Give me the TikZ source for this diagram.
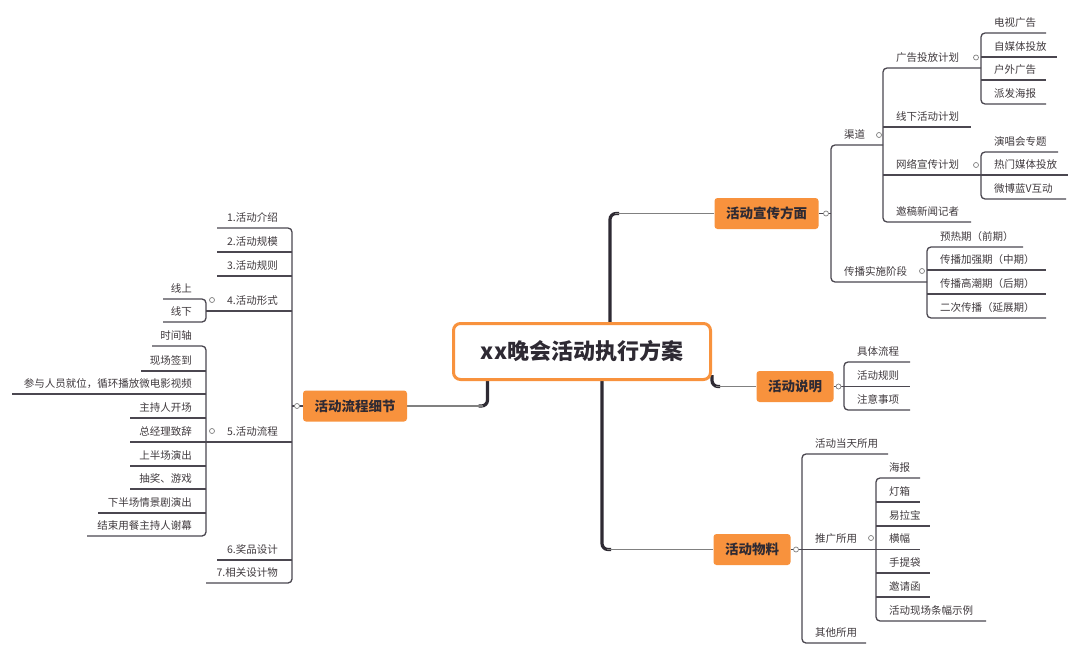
\documentclass[tikz,border=0pt]{standalone}
\usepackage{fontspec}
\setmainfont{Noto Sans CJK SC}
\usetikzlibrary{calc}
\pgfdeclarelayer{background}
\pgfsetlayers{background,main}
\definecolor{org}{HTML}{F8923D}
\definecolor{lnc}{HTML}{4B4750}
\definecolor{txt}{HTML}{403A3E}
\definecolor{dk}{HTML}{2E2A33}
\tikzset{
 lbl/.style={inner sep=0pt, font=\fontsize{10.5}{12}\selectfont, text=txt},
 uline/.style={draw=lnc, line width=1.3pt},
 vline/.style={draw=lnc, line width=1.3pt, rounded corners=4pt},
 mainbox/.style={fill=org, rounded corners=3pt, minimum height=31pt, inner xsep=11.5pt, font=\fontsize{13.5}{15}\selectfont\bfseries, text=dk},
 centralbox/.style={draw=org, fill=white, line width=3pt, rounded corners=7pt, minimum width=257pt, minimum height=56pt, font=\fontsize{22}{26}\selectfont\bfseries, text=dk},
 knob/.style={circle, draw=gray, fill=white, line width=0.7pt, minimum size=5pt, inner sep=0pt},
 trunk/.style={draw=dk, line width=3.2pt, rounded corners=6pt},
 twig/.style={draw=gray, line width=1.1pt},
}
\newcommand\RT[4]{\node[lbl,anchor=base west] (#1) at ({#2+13},{#3-7}) {#4};}
\newcommand\LT[4]{\node[lbl,anchor=base east] (#1) at ({#2-14},{#3-7}) {#4};}
\begin{document}
\begin{tikzpicture}[x=1pt,y=-1pt]
\useasboundingbox (0,0) rectangle (1080,656);
\begin{pgfonlayer}{background}
\fill[white] (0,0) rectangle (1080,656);
\end{pgfonlayer}

% central
\node[centralbox] (c) at (582,351.5) {xx晚会活动执行方案};

% ===== 活动宣传方面 =====
\node[mainbox] (ad) at (766.5,213.5) {活动宣传方面};
\node[knob] (kad) at (826,213.5) {};
\draw[vline] (883,145) -- (831,145) -- (831,282) -- (927,282);
\RT{qd}{831}{145}{渠道}
\node[knob] (kqd) at (879,135) {};
\RT{cb}{831}{282}{传播实施阶段}
\node[knob] (kcb) at (922,271) {};

\draw[vline] (981,68) -- (883,68) -- (883,222) -- (971,222);
\draw[uline] (883,127) -- (971,127);
\draw[uline] (883,175) -- (981,175);
\RT{gg}{883}{68}{广告投放计划}
\node[knob] (kgg) at (976,57.5) {};
\RT{xxhd}{883}{127}{线下活动计划}
\RT{wlxc}{883}{175}{网络宣传计划}
\node[knob] (kwlxc) at (976,165) {};
\RT{ygxw}{883}{222}{邀稿新闻记者}

\draw[vline] (1046,33) -- (981,33) -- (981,104) -- (1046,104);
\draw[uline] (981,57) -- (1057,57);
\draw[uline] (981,80) -- (1046,80);
\RT{g1}{981}{33}{电视广告}
\RT{g2}{981}{57}{自媒体投放}
\RT{g3}{981}{80}{户外广告}
\RT{g4}{981}{104}{派发海报}

\draw[vline] (1058,152) -- (981,152) -- (981,199) -- (1066,199);
\draw[uline] (981,175) -- (1068,175);
\RT{w1}{981}{152}{演唱会专题}
\RT{w2}{981}{175}{热门媒体投放}
\RT{w3}{981}{199}{微博蓝V互动}

\draw[vline] (1023,247) -- (927,247) -- (927,318) -- (1046,318);
\draw[uline] (927,270) -- (1046,270);
\draw[uline] (927,294) -- (1046,294);
\RT{c1}{927}{247}{预热期（前期）}
\RT{c2}{927}{270}{传播加强期（中期）}
\RT{c3}{927}{294}{传播高潮期（后期）}
\RT{c4}{927}{318}{二次传播（延展期）}

% ===== 活动说明 =====
\node[mainbox] (sm) at (795,386.5) {活动说明};
\node[knob] (ksm) at (838.5,386.5) {};
\draw[vline] (910,362) -- (844,362) -- (844,410) -- (910,410);
\draw[uline] (844,386.5) -- (910,386.5);
\RT{s1}{844}{362}{具体流程}
\RT{s2}{844}{386.5}{活动规则}
\RT{s3}{844}{410}{注意事项}

% ===== 活动物料 =====
\node[mainbox] (wl) at (752,549.5) {活动物料};
\node[knob] (kwl) at (796,549.5) {};
\draw[vline] (888,454) -- (802,454) -- (802,643) -- (866,643);
\draw[uline] (802,549.5) -- (876,549.5);
\RT{dt}{802}{454}{活动当天所用}
\RT{tg}{802}{549.5}{推广所用}
\node[knob] (ktg) at (871,538) {};
\RT{qt}{802}{643}{其他所用}

\draw[vline] (920,478) -- (876,478) -- (876,621) -- (986,621);
\draw[uline] (876,502) -- (920,502);
\draw[uline] (876,526) -- (930,526);
\draw[uline] (876,549.5) -- (920,549.5);
\draw[uline] (876,573) -- (930,573);
\draw[uline] (876,597) -- (930,597);
\RT{t1}{876}{478}{海报}
\RT{t2}{876}{502}{灯箱}
\RT{t3}{876}{526}{易拉宝}
\RT{t4}{876}{549.5}{横幅}
\RT{t5}{876}{573}{手提袋}
\RT{t6}{876}{597}{邀请函}
\RT{t7}{876}{621}{活动现场条幅示例}

% ===== 活动流程细节 =====
\node[mainbox] (lc) at (355,406) {活动流程细节};
\node[knob] (klc) at (297,406) {};
\draw[vline] (217,228) -- (292,228) -- (292,583) -- (206,583);
\draw[uline] (292,252) -- (217,252);
\draw[uline] (292,276) -- (217,276);
\draw[uline] (292,311) -- (206,311);
\draw[uline] (292,442) -- (206,442);
\draw[uline] (292,560) -- (217,560);
\LT{l1}{292}{228}{1.活动介绍}
\LT{l2}{292}{252}{2.活动规模}
\LT{l3}{292}{276}{3.活动规则}
\LT{l4}{292}{311}{4.活动形式}
\node[knob] (kl4) at (212,300) {};
\LT{l5}{292}{442}{5.活动流程}
\node[knob] (kl5) at (212,431) {};
\LT{l6}{292}{560}{6.奖品设计}
\LT{l7}{292}{583}{7.相关设计物}

\draw[vline] (163,299) -- (206,299) -- (206,322) -- (163,322);
\LT{f1}{206}{299}{线上}
\LT{f2}{206}{322}{线下}

\draw[vline] (152,346) -- (206,346) -- (206,536) -- (87,536);
\draw[uline] (206,371) -- (141,371);
\draw[uline] (206,394) -- (12,394);
\draw[uline] (206,418) -- (130,418);
\draw[uline] (206,442) -- (130,442);
\draw[uline] (206,466) -- (130,466);
\draw[uline] (206,489) -- (130,489);
\draw[uline] (206,513) -- (98,513);
\LT{p1}{206}{346}{时间轴}
\LT{p2}{206}{371}{现场签到}
\LT{p3}{206}{394}{参与人员就位，循环播放微电影视频}
\LT{p4}{206}{418}{主持人开场}
\LT{p5}{206}{442}{总经理致辞}
\LT{p6}{206}{466}{上半场演出}
\LT{p7}{206}{489}{抽奖、游戏}
\LT{p8}{206}{513}{下半场情景剧演出}
\LT{p9}{206}{536}{结束用餐主持人谢幕}

% ===== connectors behind =====
\begin{pgfonlayer}{background}
\draw[uline] (ad.east) -- (kad.center) -- (831,213.5);
\draw[uline] (sm.east) -- (ksm.center) -- (844,386.5);
\draw[uline] (wl.east) -- (kwl.center) -- (802,549.5);
\draw[uline] (lc.west) -- (klc.center) -- (292,406);
% trunks
\coordinate (tad) at ($(c.north)+(28,10)$);
\coordinate (tsm) at ($(c.south east)+(0,-6)$);
\coordinate (twl) at ($(c.south)+(20,-6)$);
\coordinate (tlc) at ($(c.south)+(-94.5,-6)$);
\draw[trunk] (tad) -- (tad |- ad.west) -- ++(9,0);
\draw[twig] ($(tad |- ad.west)+(5,0)$) -- (ad.west);
\draw[trunk] (tsm) -- (tsm |- sm.west) -- ++(8,0);
\draw[twig] ($(tsm |- sm.west)+(4,0)$) -- (sm.west);
\draw[trunk] (twl) -- (twl |- wl.west) -- ++(9,0);
\draw[twig] ($(twl |- wl.west)+(5,0)$) -- (wl.west);
\draw[trunk] (tlc) -- (tlc |- lc.east) -- ++(-9,0);
\draw[twig] ($(tlc |- lc.east)+(-5,0)$) -- (lc.east);
\end{pgfonlayer}
\end{tikzpicture}
\end{document}
